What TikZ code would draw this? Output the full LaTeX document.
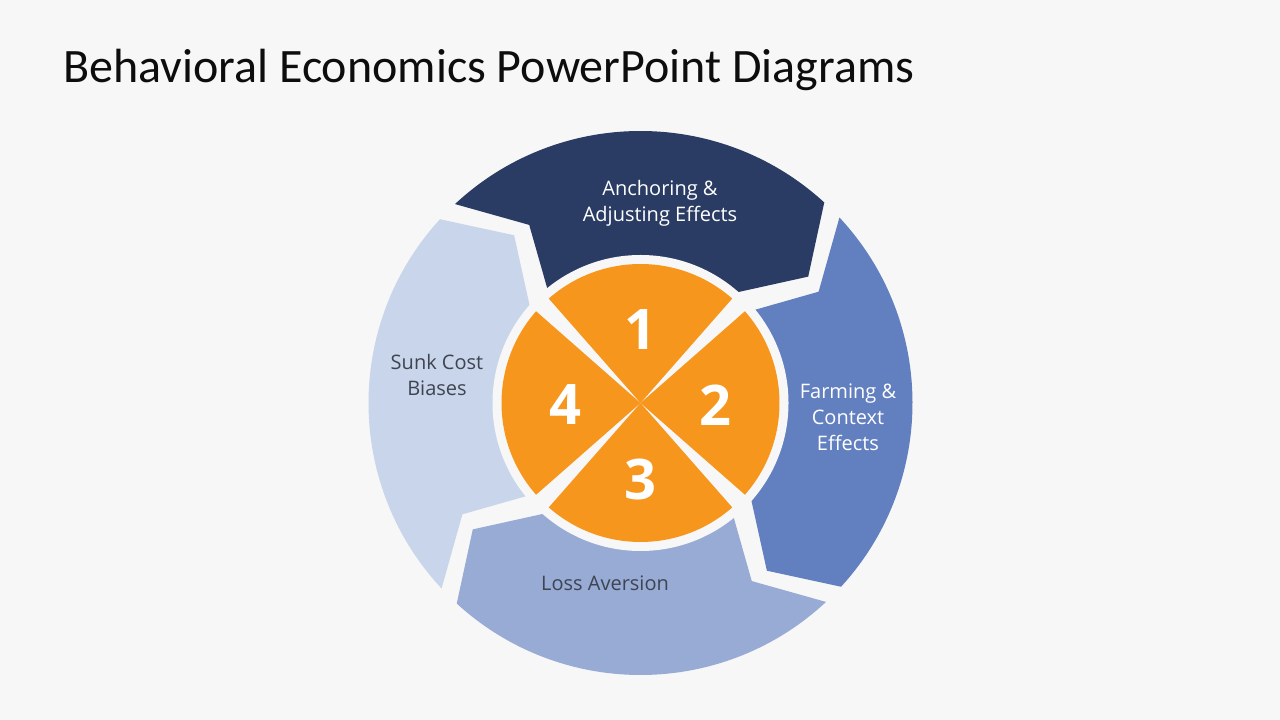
\documentclass[tikz,border=0pt]{standalone}
\usepackage{fontspec}
\setmainfont{Open Sans}
\newfontfamily\titlefont{Carlito}
\usepackage{xcolor}
\definecolor{page-bg}{HTML}{F7F7F7}
\definecolor{title-ink}{HTML}{0D0D0D}
\definecolor{deep-navy}{HTML}{2A3C64}
\definecolor{mid-blue}{HTML}{6280C0}
\definecolor{soft-blue}{HTML}{97ABD5}
\definecolor{pale-blue}{HTML}{C9D5EA}
\definecolor{accent-orange}{HTML}{F7961C}
\definecolor{label-ink}{HTML}{3F4452}

\begin{document}
\begin{tikzpicture}[x=0.75pt, y=0.75pt, every node/.style={font=\fontsize{15}{19.5}\selectfont, align=center}]
          \fill[page-bg] (0,0) rectangle (1280,720);
          \useasboundingbox (0,0) rectangle (1280,720);
          \node[anchor=base west, inner sep=0pt, text=title-ink, font=\titlefont\fontsize{36}{40}\selectfont] (title) at (63,637) {Behavioral Economics PowerPoint Diagrams};
          \begin{scope}[shift={(640.5,317)}]
            \foreach \rot/\col in {0/deep-navy, -90/mid-blue, -180/soft-blue, 90/pale-blue}
              \fill[\col, rotate=\rot] (133:272) arc[start angle=133, end angle=47.5, radius=272]
                -- (37:210) -- (51:140) arc[start angle=51, end angle=130.5, radius=140]
                -- (122:210) -- cycle;
            \fill[page-bg] (0,0) circle[radius=148];
            \foreach \mid/\num in {90/1, 0/2, -90/3, 180/4} {
              \fill[accent-orange] (0,0) -- ({\mid+41.3}:139) arc[start angle={\mid+41.3}, end angle={\mid-41.3}, radius=139] -- cycle;
              \node[text=white, font=\bfseries\fontsize{42}{42}\selectfont, yshift=-1.5pt] (num\num) at ({\mid}:75) {\num};
            }
            \node[text=white] (anchoring) at (19.5,200) {Anchoring \&\\Adjusting Effects};
            \node[text=white] (farming) at (207.5,-14) {Farming \&\\Context\\Effects};
            \node[text=label-ink] (loss) at (-35.5,-180) {Loss Aversion};
            \node[text=label-ink] (sunk) at (-203.5,28) {Sunk Cost\\Biases};
          \end{scope}
        \end{tikzpicture}
\end{document}
